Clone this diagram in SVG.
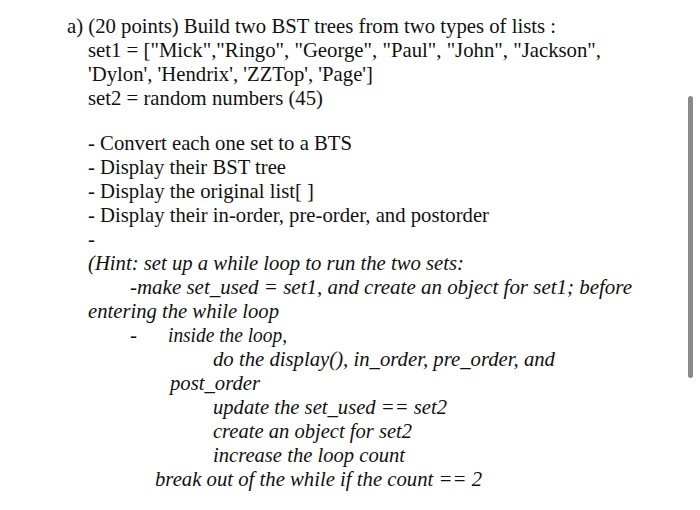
<svg xmlns="http://www.w3.org/2000/svg" width="700" height="510" viewBox="0 0 700 510">
<style>
text{font-family:"Liberation Serif","Times New Roman",serif;font-size:21px;fill:#111}
.i{font-style:italic}
</style>
<rect width="700" height="510" fill="#fff"/>
<rect x="688" y="96" width="5" height="282" rx="2.5" fill="#8a8a8a"/>
<g id="text" lengthAdjust="spacingAndGlyphs">
<text x="67" y="33" textLength="489" lengthAdjust="spacingAndGlyphs">a) (20 points) Build two BST trees from two types of lists :</text>
<text x="88" y="57" textLength="513" lengthAdjust="spacingAndGlyphs">set1 = ["Mick","Ringo", "George", "Paul", "John", "Jackson",</text>
<text x="88" y="81" textLength="285" lengthAdjust="spacingAndGlyphs">'Dylon', 'Hendrix', 'ZZTop', 'Page']</text>
<text x="88" y="105" textLength="235" lengthAdjust="spacingAndGlyphs">set2 = random numbers (45)</text>
<text x="88" y="150" textLength="264" lengthAdjust="spacingAndGlyphs">- Convert each one set to a BTS</text>
<text x="88" y="174" textLength="198" lengthAdjust="spacingAndGlyphs">- Display their BST tree</text>
<text x="88" y="198" textLength="226" lengthAdjust="spacingAndGlyphs">- Display the original list[ ]</text>
<text x="88" y="222" textLength="401" lengthAdjust="spacingAndGlyphs">- Display their in-order, pre-order, and postorder</text>
<text x="88" y="246">-</text>
<text class="i" x="88" y="270" textLength="376" lengthAdjust="spacingAndGlyphs">(Hint: set up a while loop to run the two sets:</text>
<text class="i" x="130" y="294" textLength="502" lengthAdjust="spacingAndGlyphs">-make set_used = set1, and create an object for set1;  before</text>
<text class="i" x="88" y="318" textLength="191" lengthAdjust="spacingAndGlyphs">entering the while loop</text>
<text x="130" y="342">-</text>
<text class="i" x="168" y="342" textLength="119" lengthAdjust="spacingAndGlyphs">inside the loop,</text>
<text class="i" x="213" y="366" textLength="342" lengthAdjust="spacingAndGlyphs">do the display(), in_order, pre_order, and</text>
<text class="i" x="170" y="390" textLength="90" lengthAdjust="spacingAndGlyphs">post_order</text>
<text class="i" x="213" y="414" textLength="234" lengthAdjust="spacingAndGlyphs">update the set_used == set2</text>
<text class="i" x="213" y="438" textLength="199" lengthAdjust="spacingAndGlyphs">create an object for set2</text>
<text class="i" x="213" y="462" textLength="192" lengthAdjust="spacingAndGlyphs">increase the loop count</text>
<text class="i" x="155" y="486" textLength="327" lengthAdjust="spacingAndGlyphs">break out of the while if the count == 2</text>
</g>
</svg>
